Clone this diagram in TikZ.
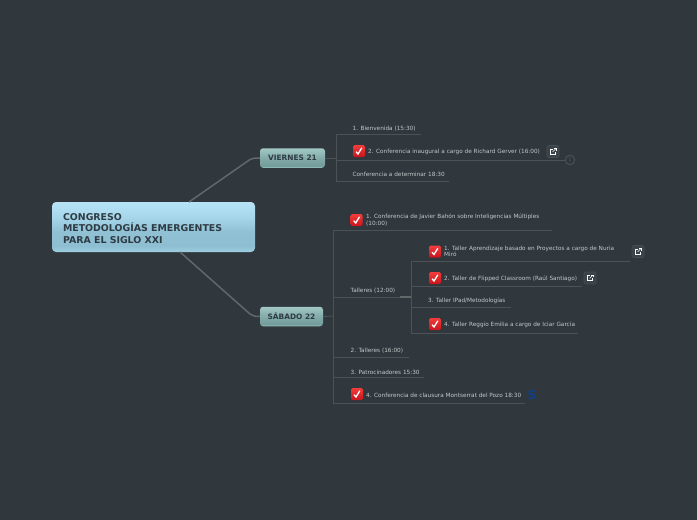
\documentclass[tikz,border=0pt]{standalone}
\usepackage{fontspec}
\setmainfont{DejaVu Sans}
\definecolor{bgc}{HTML}{30373D}
\definecolor{thin}{HTML}{4C5357}
\definecolor{thick}{HTML}{62686A}
\definecolor{leaftxt}{HTML}{C4C8C9}
\definecolor{titletxt}{HTML}{2F3B44}
\definecolor{iconbg}{HTML}{3B4348}
\definecolor{iconedge}{HTML}{474E53}
\definecolor{redtop}{HTML}{F23C3C}
\definecolor{redbot}{HTML}{C8141C}
\definecolor{sblue}{HTML}{0F3F8C}
\definecolor{ma}{HTML}{9FD0E2}
\definecolor{mb}{HTML}{8DBED1}
\definecolor{mc}{HTML}{8FC0D3}
\definecolor{md}{HTML}{A6D6EA}
\definecolor{me}{HTML}{B7E3F7}
\definecolor{ba}{HTML}{9CC9C3}
\definecolor{bb}{HTML}{729C9B}
\definecolor{bc}{HTML}{82ABA9}
\definecolor{bd}{HTML}{A2C8C3}
\pgfdeclareverticalshading{mainshade}{100bp}{color(0bp)=(ma);color(25bp)=(ma);color(31bp)=(mb);color(45bp)=(mc);color(60bp)=(md);color(75bp)=(me);color(100bp)=(me)}
\pgfdeclareverticalshading{branchshade}{100bp}{color(0bp)=(ba);color(25bp)=(ba);color(30bp)=(bb);color(50bp)=(bc);color(75bp)=(bd);color(100bp)=(bd)}
\tikzset{
  x=1pt,y=-1pt,
  mainbox/.style={rectangle,rounded corners=4pt,shading=mainshade,draw=none,minimum width=203pt,minimum height=50pt,inner xsep=11pt,inner ysep=0pt,align=left,text=titletxt,font=\fontsize{9.4}{11.5}\selectfont\bfseries},
  branchbox/.style={rectangle,rounded corners=3pt,shading=branchshade,draw=none,minimum height=19.5pt,inner sep=0pt,text=titletxt,font=\fontsize{7.4}{9}\selectfont\bfseries},
  leaf/.style={anchor=west,inner sep=0pt,align=left,text=leaftxt,font=\fontsize{5.75}{6.6}\selectfont},
  mainlink/.style={draw=thick,line width=1.5pt},
  thinline/.style={draw=thin,line width=0.9pt},
  chkbox/.style={rectangle,rounded corners=1.5pt,minimum size=12pt,inner sep=0pt,top color=redtop,bottom color=redbot,
    path picture={\draw[white,line width=1.3pt,sharp corners] (path picture bounding box.center) ++(-3,0.7) -- ++(2,2.3) -- ++(3.8,-6.2);}},
  linkicon/.style={rectangle,rounded corners=2pt,minimum size=12pt,inner sep=0pt,fill=iconbg,draw=iconedge,line width=0.6pt,
    path picture={\draw[white,line width=0.6pt,sharp corners] (path picture bounding box.center) ++(0,-2.5) -- ++(-2.7,0) -- ++(0,5.2) -- ++(5.2,0) -- ++(0,-2.5);
      \draw[white,line width=0.6pt,sharp corners] (path picture bounding box.center) ++(-0.3,0.3) -- ++(2.8,-2.8);
      \draw[white,line width=0.6pt,sharp corners] (path picture bounding box.center) ++(1,-2.8) -- ++(1.8,0) -- ++(0,1.8);}},
  countcirc/.style={circle,draw=thin,line width=0.9pt,minimum size=9.5pt,inner sep=0pt,text=thin,font=\fontsize{5}{6}\selectfont},
}
\begin{document}
\begin{tikzpicture}
\useasboundingbox (0,0) rectangle (697,520);
\fill[bgc] (0,0) rectangle (697,520);

% anchors
\coordinate (vhub) at (336,158);
\coordinate (vtop) at (336,134.5);
\coordinate (vmid) at (336,160);
\coordinate (vbot) at (336,181);
\coordinate (vtopend) at (421,134.5);
\coordinate (vbotend) at (449,181);
\coordinate (shub) at (333.5,316);
\coordinate (stop) at (333.5,230);
\coordinate (stopend) at (552,230);
\coordinate (staller) at (333.5,297);
\coordinate (tbar) at (400,297);
\coordinate (thub) at (411,297);
\coordinate (tt1) at (411,261);
\coordinate (tt1end) at (630,261);
\coordinate (tt2) at (411,286);
\coordinate (tt2end) at (582,286);
\coordinate (tt3) at (411,307.5);
\coordinate (tt3end) at (511,307.5);
\coordinate (tt4) at (411,333);
\coordinate (tt4end) at (578,333);
\coordinate (s2) at (333.5,357.5);
\coordinate (s2end) at (409,357.5);
\coordinate (s3) at (333.5,377.5);
\coordinate (s3end) at (424,377.5);
\coordinate (s4) at (333.5,403);
\coordinate (s4end) at (525,403);

% main nodes
\node[mainbox] (main) at (153.5,227) {\parbox{181pt}{\rule{0pt}{9.5pt}CONGRESO\\METODOLOGÍAS EMERGENTES\\PARA EL SIGLO XXI}};
\node[branchbox,minimum width=65pt] (vie) at (292.5,158) {VIERNES 21};
\node[branchbox,minimum width=63pt] (sab) at (291.5,316.5) {SÁBADO 22};

% main connectors
\draw[mainlink] (189,202) -- (250,159.5) .. controls (253,158) and (255,158) .. (vie.west);
\draw[mainlink] (180,252) -- (250,314) .. controls (253,316) and (255,316.5) .. (sab.west);

% count circle
\node[countcirc] (cnt) at (570,160) {1};

% Viernes tree
\draw[thinline] (vie.east) -- (vhub);
\draw[thinline] (vtopend) -- (vtop) -- (vbot) -- (vbotend);
\draw[thinline] (vmid) -- (cnt.west);

% Sabado tree
\draw[thinline] (sab.east) -- (shub);
\draw[thinline] (stopend) -- (stop) -- (s4) -- (s4end);
\draw[thinline] (staller) -- (tbar);
\draw[draw=thick,line width=1.2pt] (tbar) -- (thub);
\draw[thinline] (tt1end) -- (tt1) -- (tt4) -- (tt4end);
\draw[thinline] (tt2) -- (tt2end);
\draw[thinline] (tt3) -- (tt3end);
\draw[thinline] (s2) -- (s2end);
\draw[thinline] (s3) -- (s3end);

% leaves: Viernes
\node[leaf] (v1) at (352.5,128.5) {1. Bienvenida (15:30)};
\node[chkbox] (vc2) at (359,151) {};
\node[leaf] (v2) at (368,152.3) {2. Conferencia inaugural a cargo de Richard Gerver (16:00)};
\node[linkicon] (vl2) at (553,151.5) {};
\node[leaf] (v3) at (352.5,174.5) {Conferencia a determinar 18:30};

% leaves: Sabado
\node[chkbox] (sc1) at (356.7,220) {};
\node[leaf] (s1t) at (366,220.3) {1. Conferencia de Javier Bahón sobre Inteligencias Múltiples\\(10:00)};
\node[leaf] (stal) at (350.5,290.5) {Talleres (12:00)};
\node[chkbox] (tc1) at (435,251.5) {};
\node[leaf] (t1) at (444,251.5) {1. Taller Aprendizaje basado en Proyectos a cargo de Nuria\\Miró};
\node[linkicon] (tl1) at (638,251.5) {};
\node[chkbox] (tc2) at (435,278) {};
\node[leaf] (t2) at (444,278.3) {2. Taller de Flipped Classroom (Raúl Santiago)};
\node[linkicon] (tl2) at (590,278) {};
\node[leaf] (t3) at (428,301) {3. Taller IPad/Metodologías};
\node[chkbox] (tc4) at (435,324) {};
\node[leaf] (t4) at (444,324.3) {4. Taller Reggio Emilia a cargo de Iciar García};
\node[leaf] (s2t) at (350.5,351) {2. Talleres (16:00)};
\node[leaf] (s3t) at (350.5,372) {3. Patrocinadores 15:30};
\node[chkbox] (sc4) at (357,394) {};
\node[leaf] (s4t) at (366,395) {4. Conferencia de clausura Montserrat del Pozo 18:30};
\node[anchor=center,inner sep=0pt,text=sblue,font=\fontsize{12}{12}\selectfont\bfseries] (skype) at (532,395) {S};
\end{tikzpicture}
\end{document}
